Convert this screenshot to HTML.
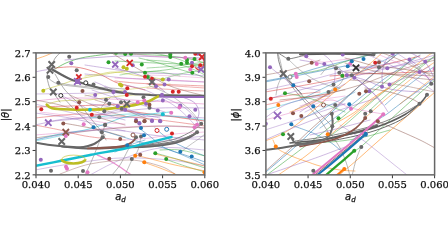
<!DOCTYPE html>
<html><head><meta charset="utf-8"><style>
html,body{margin:0;padding:0;background:#fff;width:448px;height:252px;overflow:hidden}
svg{display:block}
.t{font-family:"DejaVu Serif","Liberation Serif",serif;font-size:10.0px;fill:#111;stroke:#111;stroke-width:0.25px}
.m{font-family:"DejaVu Sans","Liberation Sans",sans-serif;font-size:10.0px;fill:#111;stroke:#111;stroke-width:0.25px}
</style></head><body>
<svg width="448" height="252" viewBox="0 0 448 252"><defs><filter id="bl" x="0" y="0" width="100%" height="100%"><feGaussianBlur stdDeviation="0.35"/></filter></defs><rect width="448" height="252" fill="#fff"/><g filter="url(#bl)"><clipPath id="c0"><rect x="36.0" y="52.9" width="168.8" height="121.94999999999999"/></clipPath>
<g clip-path="url(#c0)">
<path d="M36.00,59.00C37.50,58.50 42.33,57.00 45.00,56.00C47.67,55.00 50.83,53.50 52.00,53.00" fill="none" stroke="#ff7f0e" stroke-opacity="0.5" stroke-width="1" stroke-linecap="round" stroke-linejoin="round"/>
<path d="M61.00,52.00C60.17,52.83 57.33,55.33 56.00,57.00C54.67,58.67 54.17,59.83 53.00,62.00C51.83,64.17 50.00,67.67 49.00,70.00C48.00,72.33 47.17,74.00 47.00,76.00C46.83,78.00 47.50,80.00 48.00,82.00C48.50,84.00 48.83,85.83 50.00,88.00C51.17,90.17 53.33,92.67 55.00,95.00C56.67,97.33 59.17,100.83 60.00,102.00" fill="none" stroke="#7f7f7f" stroke-opacity="0.8" stroke-width="0.9" stroke-linecap="round" stroke-linejoin="round"/>
<path d="M55.00,69.00C56.83,68.00 61.67,64.83 66.00,63.00C70.33,61.17 75.33,59.33 81.00,58.00C86.67,56.67 94.33,55.83 100.00,55.00C105.67,54.17 108.33,53.50 115.00,53.00C121.67,52.50 135.83,52.17 140.00,52.00" fill="none" stroke="#2ca02c" stroke-opacity="0.6" stroke-width="1" stroke-linecap="round" stroke-linejoin="round"/>
<path d="M115.00,54.00C119.17,54.08 131.00,54.17 140.00,54.50C149.00,54.83 160.67,55.25 169.00,56.00C177.33,56.75 184.00,57.83 190.00,59.00C196.00,60.17 202.50,62.33 205.00,63.00" fill="none" stroke="#2ca02c" stroke-opacity="0.5" stroke-width="1" stroke-linecap="round" stroke-linejoin="round"/>
<path d="M115.00,61.00C118.33,61.17 128.33,61.67 135.00,62.00C141.67,62.33 147.50,62.67 155.00,63.00C162.50,63.33 171.67,63.67 180.00,64.00C188.33,64.33 200.83,64.83 205.00,65.00" fill="none" stroke="#2ca02c" stroke-opacity="0.45" stroke-width="1" stroke-linecap="round" stroke-linejoin="round"/>
<path d="M139.00,58.00C141.67,58.67 149.00,60.33 155.00,62.00C161.00,63.67 168.33,66.00 175.00,68.00C181.67,70.00 190.00,72.33 195.00,74.00C200.00,75.67 203.33,77.33 205.00,78.00" fill="none" stroke="#2ca02c" stroke-opacity="0.45" stroke-width="1" stroke-linecap="round" stroke-linejoin="round"/>
<path d="M145.00,72.00C148.33,71.67 158.33,70.83 165.00,70.00C171.67,69.17 178.33,68.00 185.00,67.00C191.67,66.00 201.67,64.50 205.00,64.00" fill="none" stroke="#2ca02c" stroke-opacity="0.45" stroke-width="1" stroke-linecap="round" stroke-linejoin="round"/>
<path d="M55.00,68.00C58.33,67.83 68.33,66.33 75.00,67.00C81.67,67.67 88.33,69.50 95.00,72.00C101.67,74.50 110.00,79.83 115.00,82.00C120.00,84.17 120.00,83.67 125.00,85.00C130.00,86.33 141.67,89.17 145.00,90.00" fill="none" stroke="#d62728" stroke-opacity="0.5" stroke-width="1" stroke-linecap="round" stroke-linejoin="round"/>
<path d="M35.00,72.00C36.67,71.67 41.67,70.50 45.00,70.00C48.33,69.50 53.33,69.17 55.00,69.00" fill="none" stroke="#9467bd" stroke-opacity="0.45" stroke-width="1" stroke-linecap="round" stroke-linejoin="round"/>
<path d="M65.00,60.00C69.17,59.67 80.00,58.67 90.00,58.00C100.00,57.33 112.50,56.17 125.00,56.00C137.50,55.83 151.67,56.67 165.00,57.00C178.33,57.33 198.33,57.83 205.00,58.00" fill="none" stroke="#9467bd" stroke-opacity="0.5" stroke-width="1" stroke-linecap="round" stroke-linejoin="round"/>
<path d="M85.00,65.00C88.33,65.50 98.33,67.00 105.00,68.00C111.67,69.00 117.50,70.17 125.00,71.00C132.50,71.83 140.83,72.50 150.00,73.00C159.17,73.50 170.83,73.50 180.00,74.00C189.17,74.50 200.83,75.67 205.00,76.00" fill="none" stroke="#9467bd" stroke-opacity="0.45" stroke-width="1" stroke-linecap="round" stroke-linejoin="round"/>
<path d="M85.00,74.00C88.33,74.33 98.33,75.33 105.00,76.00C111.67,76.67 115.83,77.33 125.00,78.00C134.17,78.67 146.67,79.33 160.00,80.00C173.33,80.67 197.50,81.67 205.00,82.00" fill="none" stroke="#9467bd" stroke-opacity="0.45" stroke-width="1" stroke-linecap="round" stroke-linejoin="round"/>
<path d="M115.00,68.00C117.50,68.67 125.50,70.67 130.00,72.00C134.50,73.33 138.50,74.67 142.00,76.00C145.50,77.33 148.33,78.33 151.00,80.00C153.67,81.67 155.67,84.00 158.00,86.00C160.33,88.00 163.83,91.00 165.00,92.00" fill="none" stroke="#9467bd" stroke-opacity="0.55" stroke-width="1" stroke-linecap="round" stroke-linejoin="round"/>
<path d="M95.00,82.00C96.50,82.67 101.33,84.33 104.00,86.00C106.67,87.67 108.67,89.67 111.00,92.00C113.33,94.33 116.83,98.67 118.00,100.00" fill="none" stroke="#9467bd" stroke-opacity="0.45" stroke-width="1" stroke-linecap="round" stroke-linejoin="round"/>
<path d="M105.00,86.00C106.67,86.67 111.67,88.83 115.00,90.00C118.33,91.17 123.33,92.50 125.00,93.00" fill="none" stroke="#9467bd" stroke-opacity="0.45" stroke-width="1" stroke-linecap="round" stroke-linejoin="round"/>
<path d="M35.00,94.00C40.83,93.92 57.50,93.67 70.00,93.50C82.50,93.33 96.67,92.92 110.00,93.00C123.33,93.08 143.33,93.83 150.00,94.00" fill="none" stroke="#9467bd" stroke-opacity="0.4" stroke-width="1" stroke-linecap="round" stroke-linejoin="round"/>
<path d="M35.00,125.00C38.33,124.33 48.33,122.00 55.00,121.00C61.67,120.00 67.50,120.00 75.00,119.00C82.50,118.00 91.67,116.33 100.00,115.00C108.33,113.67 115.00,112.17 125.00,111.00C135.00,109.83 146.67,108.50 160.00,108.00C173.33,107.50 197.50,108.00 205.00,108.00" fill="none" stroke="#9467bd" stroke-opacity="0.45" stroke-width="1" stroke-linecap="round" stroke-linejoin="round"/>
<path d="M35.00,113.00C40.83,113.83 59.17,116.00 70.00,118.00C80.83,120.00 90.83,122.83 100.00,125.00C109.17,127.17 115.00,129.17 125.00,131.00C135.00,132.83 146.67,134.50 160.00,136.00C173.33,137.50 197.50,139.33 205.00,140.00" fill="none" stroke="#9467bd" stroke-opacity="0.45" stroke-width="1" stroke-linecap="round" stroke-linejoin="round"/>
<path d="M47.00,122.00C50.00,121.50 58.67,119.67 65.00,119.00C71.33,118.33 77.50,118.17 85.00,118.00C92.50,117.83 100.83,118.17 110.00,118.00C119.17,117.83 130.00,117.33 140.00,117.00C150.00,116.67 159.17,115.83 170.00,116.00C180.83,116.17 199.17,117.67 205.00,118.00" fill="none" stroke="#9467bd" stroke-opacity="0.45" stroke-width="1" stroke-linecap="round" stroke-linejoin="round"/>
<path d="M90.00,175.00C95.00,172.50 108.33,164.50 120.00,160.00C131.67,155.50 145.83,149.67 160.00,148.00C174.17,146.33 197.50,149.67 205.00,150.00" fill="none" stroke="#9467bd" stroke-opacity="0.4" stroke-width="1" stroke-linecap="round" stroke-linejoin="round"/>
<path d="M35.00,170.00C40.83,169.00 55.83,166.00 70.00,164.00C84.17,162.00 103.33,158.67 120.00,158.00C136.67,157.33 155.83,158.67 170.00,160.00C184.17,161.33 199.17,165.00 205.00,166.00" fill="none" stroke="#9467bd" stroke-opacity="0.4" stroke-width="1" stroke-linecap="round" stroke-linejoin="round"/>
<path d="M182.00,97.00C183.67,97.67 189.50,99.50 192.00,101.00C194.50,102.50 195.83,104.00 197.00,106.00C198.17,108.00 199.00,110.67 199.00,113.00C199.00,115.33 197.33,118.83 197.00,120.00" fill="none" stroke="#9467bd" stroke-opacity="0.55" stroke-width="1" stroke-linecap="round" stroke-linejoin="round"/>
<path d="M160.00,96.00C161.67,96.67 165.83,98.00 170.00,100.00C174.17,102.00 180.83,105.00 185.00,108.00C189.17,111.00 192.50,114.67 195.00,118.00C197.50,121.33 199.17,126.33 200.00,128.00" fill="none" stroke="#9467bd" stroke-opacity="0.45" stroke-width="1" stroke-linecap="round" stroke-linejoin="round"/>
<path d="M115.00,150.00C119.17,149.33 130.83,147.67 140.00,146.00C149.17,144.33 159.17,141.67 170.00,140.00C180.83,138.33 199.17,136.67 205.00,136.00" fill="none" stroke="#9467bd" stroke-opacity="0.4" stroke-width="1" stroke-linecap="round" stroke-linejoin="round"/>
<path d="M35.00,101.00C40.83,100.50 57.50,98.33 70.00,98.00C82.50,97.67 96.67,98.50 110.00,99.00C123.33,99.50 134.17,100.17 150.00,101.00C165.83,101.83 195.83,103.50 205.00,104.00" fill="none" stroke="#e377c2" stroke-opacity="0.5" stroke-width="1" stroke-linecap="round" stroke-linejoin="round"/>
<path d="M35.00,135.00C39.17,134.67 50.83,133.83 60.00,133.00C69.17,132.17 79.17,131.00 90.00,130.00C100.83,129.00 113.33,127.67 125.00,127.00C136.67,126.33 146.67,125.83 160.00,126.00C173.33,126.17 197.50,127.67 205.00,128.00" fill="none" stroke="#e377c2" stroke-opacity="0.45" stroke-width="1" stroke-linecap="round" stroke-linejoin="round"/>
<path d="M115.00,78.00C119.17,78.17 130.83,78.67 140.00,79.00C149.17,79.33 159.17,79.50 170.00,80.00C180.83,80.50 199.17,81.67 205.00,82.00" fill="none" stroke="#e377c2" stroke-opacity="0.45" stroke-width="1" stroke-linecap="round" stroke-linejoin="round"/>
<path d="M120.00,52.00C125.00,52.67 139.17,55.00 150.00,56.00C160.83,57.00 175.83,57.33 185.00,58.00C194.17,58.67 201.67,59.67 205.00,60.00" fill="none" stroke="#e377c2" stroke-opacity="0.45" stroke-width="1" stroke-linecap="round" stroke-linejoin="round"/>
<path d="M97.00,154.80C99.17,155.83 106.17,158.97 110.00,161.00C113.83,163.03 116.50,164.70 120.00,167.00C123.50,169.30 129.17,173.50 131.00,174.80" fill="none" stroke="#e377c2" stroke-opacity="0.8" stroke-width="1.3" stroke-linecap="round" stroke-linejoin="round"/>
<path d="M120.00,110.00C125.00,110.67 140.83,112.83 150.00,114.00C159.17,115.17 165.83,115.83 175.00,117.00C184.17,118.17 200.00,120.33 205.00,121.00" fill="none" stroke="#d62728" stroke-opacity="0.5" stroke-width="1.1" stroke-linecap="round" stroke-linejoin="round"/>
<path d="M35.00,107.00C40.83,106.83 59.17,106.33 70.00,106.00C80.83,105.67 90.83,105.33 100.00,105.00C109.17,104.67 116.67,104.33 125.00,104.00C133.33,103.67 145.83,103.17 150.00,103.00" fill="none" stroke="#d62728" stroke-opacity="0.45" stroke-width="1" stroke-linecap="round" stroke-linejoin="round"/>
<path d="M115.00,81.00C118.33,81.33 128.33,82.50 135.00,83.00C141.67,83.50 147.50,83.67 155.00,84.00C162.50,84.33 171.67,84.67 180.00,85.00C188.33,85.33 200.83,85.83 205.00,86.00" fill="none" stroke="#d62728" stroke-opacity="0.4" stroke-width="1" stroke-linecap="round" stroke-linejoin="round"/>
<path d="M194.00,53.00C195.00,53.33 198.33,53.83 200.00,55.00C201.67,56.17 203.50,58.17 204.00,60.00C204.50,61.83 203.83,64.33 203.00,66.00C202.17,67.67 200.33,69.83 199.00,70.00C197.67,70.17 195.67,67.50 195.00,67.00" fill="none" stroke="#d62728" stroke-opacity="0.6" stroke-width="1.1" stroke-linecap="round" stroke-linejoin="round"/>
<path d="M35.00,118.00C42.50,117.33 65.83,114.33 80.00,114.00C94.17,113.67 106.67,115.00 120.00,116.00C133.33,117.00 145.83,118.33 160.00,120.00C174.17,121.67 197.50,125.00 205.00,126.00" fill="none" stroke="#d62728" stroke-opacity="0.4" stroke-width="1" stroke-linecap="round" stroke-linejoin="round"/>
<path d="M63.00,123.00C65.83,123.50 73.83,124.83 80.00,126.00C86.17,127.17 92.50,128.17 100.00,130.00C107.50,131.83 120.83,135.83 125.00,137.00" fill="none" stroke="#8c564b" stroke-opacity="0.5" stroke-width="1" stroke-linecap="round" stroke-linejoin="round"/>
<path d="M35.00,138.00C42.50,137.00 65.83,133.67 80.00,132.00C94.17,130.33 105.00,129.00 120.00,128.00C135.00,127.00 155.83,126.00 170.00,126.00C184.17,126.00 199.17,127.67 205.00,128.00" fill="none" stroke="#8c564b" stroke-opacity="0.45" stroke-width="1" stroke-linecap="round" stroke-linejoin="round"/>
<path d="M110.00,52.00C115.00,55.00 130.00,64.33 140.00,70.00C150.00,75.67 159.17,81.67 170.00,86.00C180.83,90.33 199.17,94.33 205.00,96.00" fill="none" stroke="#8c564b" stroke-opacity="0.45" stroke-width="1" stroke-linecap="round" stroke-linejoin="round"/>
<path d="M60.00,174.00C65.00,172.33 78.33,166.33 90.00,164.00C101.67,161.67 118.33,159.67 130.00,160.00C141.67,160.33 152.50,163.67 160.00,166.00C167.50,168.33 172.50,172.67 175.00,174.00" fill="none" stroke="#8c564b" stroke-opacity="0.4" stroke-width="1" stroke-linecap="round" stroke-linejoin="round"/>
<path d="M46.70,104.70C48.92,104.08 52.62,101.83 60.00,101.00C67.38,100.17 81.00,100.53 91.00,99.70C101.00,98.87 110.17,96.95 120.00,96.00C129.83,95.05 145.00,94.33 150.00,94.00" fill="none" stroke="#bcbd22" stroke-opacity="0.5" stroke-width="1" stroke-linecap="round" stroke-linejoin="round"/>
<path d="M43.00,90.00C45.83,89.17 54.67,86.67 60.00,85.00C65.33,83.33 68.33,81.67 75.00,80.00C81.67,78.33 91.67,76.50 100.00,75.00C108.33,73.50 120.83,71.67 125.00,71.00" fill="none" stroke="#bcbd22" stroke-opacity="0.5" stroke-width="1" stroke-linecap="round" stroke-linejoin="round"/>
<path d="M85.00,76.00C87.50,75.67 95.00,74.67 100.00,74.00C105.00,73.33 108.33,71.67 115.00,72.00C121.67,72.33 132.00,74.83 140.00,76.00C148.00,77.17 159.17,78.50 163.00,79.00" fill="none" stroke="#bcbd22" stroke-opacity="0.45" stroke-width="1" stroke-linecap="round" stroke-linejoin="round"/>
<path d="M85.00,96.00C89.17,95.33 100.83,93.33 110.00,92.00C119.17,90.67 130.00,89.33 140.00,88.00C150.00,86.67 165.00,84.67 170.00,84.00" fill="none" stroke="#bcbd22" stroke-opacity="0.4" stroke-width="1" stroke-linecap="round" stroke-linejoin="round"/>
<path d="M35.00,140.00C39.17,139.00 51.67,135.67 60.00,134.00C68.33,132.33 77.50,131.67 85.00,130.00C92.50,128.33 98.33,126.17 105.00,124.00C111.67,121.83 117.50,118.67 125.00,117.00C132.50,115.33 142.50,114.83 150.00,114.00C157.50,113.17 166.67,112.33 170.00,112.00" fill="none" stroke="#17becf" stroke-opacity="0.55" stroke-width="1" stroke-linecap="round" stroke-linejoin="round"/>
<path d="M35.00,141.00C37.50,140.50 44.50,139.17 50.00,138.00C55.50,136.83 65.00,134.67 68.00,134.00" fill="none" stroke="#17becf" stroke-opacity="0.45" stroke-width="1" stroke-linecap="round" stroke-linejoin="round"/>
<path d="M90.00,118.00C96.67,117.33 116.67,114.33 130.00,114.00C143.33,113.67 157.50,115.00 170.00,116.00C182.50,117.00 199.17,119.33 205.00,120.00" fill="none" stroke="#17becf" stroke-opacity="0.45" stroke-width="1" stroke-linecap="round" stroke-linejoin="round"/>
<path d="M55.00,74.00C56.67,76.67 60.83,84.83 65.00,90.00C69.17,95.17 75.50,100.00 80.00,105.00C84.50,110.00 88.50,115.67 92.00,120.00C95.50,124.33 98.67,127.67 101.00,131.00C103.33,134.33 105.17,138.50 106.00,140.00" fill="none" stroke="#7f7f7f" stroke-opacity="0.7" stroke-width="0.9" stroke-linecap="round" stroke-linejoin="round"/>
<path d="M61.00,95.00C63.33,97.50 70.50,105.50 75.00,110.00C79.50,114.50 84.00,118.50 88.00,122.00C92.00,125.50 96.17,128.83 99.00,131.00C101.83,133.17 104.00,134.33 105.00,135.00" fill="none" stroke="#7f7f7f" stroke-opacity="0.7" stroke-width="0.9" stroke-linecap="round" stroke-linejoin="round"/>
<path d="M48.00,78.00C49.67,79.00 52.67,82.50 58.00,84.00C63.33,85.50 72.17,86.00 80.00,87.00C87.83,88.00 97.50,89.17 105.00,90.00C112.50,90.83 121.67,91.67 125.00,92.00" fill="none" stroke="#7f7f7f" stroke-opacity="0.6" stroke-width="0.9" stroke-linecap="round" stroke-linejoin="round"/>
<path d="M58.00,83.00C61.67,83.50 71.33,85.17 80.00,86.00C88.67,86.83 102.50,87.50 110.00,88.00C117.50,88.50 122.50,88.83 125.00,89.00" fill="none" stroke="#7f7f7f" stroke-opacity="0.6" stroke-width="0.9" stroke-linecap="round" stroke-linejoin="round"/>
<path d="M105.00,125.00C104.17,127.50 102.17,134.17 100.00,140.00C97.83,145.83 94.50,154.17 92.00,160.00C89.50,165.83 86.17,172.50 85.00,175.00" fill="none" stroke="#7f7f7f" stroke-opacity="0.6" stroke-width="0.9" stroke-linecap="round" stroke-linejoin="round"/>
<path d="M135.00,137.00C133.83,139.17 130.50,145.33 128.00,150.00C125.50,154.67 122.67,160.83 120.00,165.00C117.33,169.17 113.33,173.33 112.00,175.00" fill="none" stroke="#7f7f7f" stroke-opacity="0.6" stroke-width="0.9" stroke-linecap="round" stroke-linejoin="round"/>
<path d="M141.00,136.00C140.50,138.33 139.50,146.00 138.00,150.00C136.50,154.00 134.17,155.83 132.00,160.00C129.83,164.17 126.17,172.50 125.00,175.00" fill="none" stroke="#7f7f7f" stroke-opacity="0.55" stroke-width="0.9" stroke-linecap="round" stroke-linejoin="round"/>
<path d="M150.00,86.00C153.33,87.50 163.33,91.00 170.00,95.00C176.67,99.00 184.83,105.17 190.00,110.00C195.17,114.83 199.17,121.67 201.00,124.00" fill="none" stroke="#7f7f7f" stroke-opacity="0.5" stroke-width="0.9" stroke-linecap="round" stroke-linejoin="round"/>
<path d="M99.00,111.00C99.83,109.83 102.17,106.17 104.00,104.00C105.83,101.83 109.00,99.00 110.00,98.00" fill="none" stroke="#7f7f7f" stroke-opacity="0.6" stroke-width="0.9" stroke-linecap="round" stroke-linejoin="round"/>
<path d="M181.00,152.00C182.50,150.83 186.83,147.33 190.00,145.00C193.17,142.67 197.50,139.83 200.00,138.00C202.50,136.17 204.17,134.67 205.00,134.00" fill="none" stroke="#7f7f7f" stroke-opacity="0.5" stroke-width="0.9" stroke-linecap="round" stroke-linejoin="round"/>
<path d="M139.00,128.00C141.17,129.67 147.67,134.67 152.00,138.00C156.33,141.33 159.50,145.17 165.00,148.00C170.50,150.83 178.33,152.67 185.00,155.00C191.67,157.33 201.67,160.83 205.00,162.00" fill="none" stroke="#1f77b4" stroke-opacity="0.5" stroke-width="1" stroke-linecap="round" stroke-linejoin="round"/>
<path d="M155.00,128.00C157.50,130.00 164.17,136.33 170.00,140.00C175.83,143.67 184.17,147.33 190.00,150.00C195.83,152.67 202.50,155.00 205.00,156.00" fill="none" stroke="#1f77b4" stroke-opacity="0.5" stroke-width="1" stroke-linecap="round" stroke-linejoin="round"/>
<path d="M100.00,130.00C106.67,132.00 128.33,138.67 140.00,142.00C151.67,145.33 159.17,146.17 170.00,150.00C180.83,153.83 199.17,162.50 205.00,165.00" fill="none" stroke="#1f77b4" stroke-opacity="0.45" stroke-width="1" stroke-linecap="round" stroke-linejoin="round"/>
<path d="M115.00,152.00C117.50,150.83 125.00,147.00 130.00,145.00C135.00,143.00 142.50,140.83 145.00,140.00" fill="none" stroke="#1f77b4" stroke-opacity="0.45" stroke-width="1" stroke-linecap="round" stroke-linejoin="round"/>
<path d="M155.00,153.00C159.17,154.17 171.67,157.50 180.00,160.00C188.33,162.50 200.83,166.67 205.00,168.00" fill="none" stroke="#2ca02c" stroke-opacity="0.45" stroke-width="1" stroke-linecap="round" stroke-linejoin="round"/>
<path d="M160.00,150.00C163.33,150.00 172.50,149.00 180.00,150.00C187.50,151.00 200.83,155.00 205.00,156.00" fill="none" stroke="#2ca02c" stroke-opacity="0.45" stroke-width="1" stroke-linecap="round" stroke-linejoin="round"/>
<path d="M165.00,159.00C168.33,160.17 178.33,163.83 185.00,166.00C191.67,168.17 201.67,171.00 205.00,172.00" fill="none" stroke="#2ca02c" stroke-opacity="0.45" stroke-width="1" stroke-linecap="round" stroke-linejoin="round"/>
<path d="M135.00,155.00C138.33,155.83 148.33,158.33 155.00,160.00C161.67,161.67 166.67,163.17 175.00,165.00C183.33,166.83 200.00,170.00 205.00,171.00" fill="none" stroke="#ff7f0e" stroke-opacity="0.5" stroke-width="1" stroke-linecap="round" stroke-linejoin="round"/>
<path d="M143.00,162.00C145.83,163.00 154.67,166.00 160.00,168.00C165.33,170.00 172.50,173.00 175.00,174.00" fill="none" stroke="#ff7f0e" stroke-opacity="0.5" stroke-width="1" stroke-linecap="round" stroke-linejoin="round"/>
<path d="M155.00,154.00C159.17,155.00 171.67,158.00 180.00,160.00C188.33,162.00 200.83,165.00 205.00,166.00" fill="none" stroke="#ff7f0e" stroke-opacity="0.45" stroke-width="1" stroke-linecap="round" stroke-linejoin="round"/>
<path d="M35.00,100.00C39.17,100.83 52.50,103.00 60.00,105.00C67.50,107.00 73.33,109.83 80.00,112.00C86.67,114.17 92.50,115.83 100.00,118.00C107.50,120.17 120.83,123.83 125.00,125.00" fill="none" stroke="#8c564b" stroke-opacity="0.45" stroke-width="1" stroke-linecap="round" stroke-linejoin="round"/>
<path d="M60.00,95.00C62.50,96.17 70.00,99.50 75.00,102.00C80.00,104.50 84.17,107.67 90.00,110.00C95.83,112.33 104.17,114.33 110.00,116.00C115.83,117.67 122.50,119.33 125.00,120.00" fill="none" stroke="#9467bd" stroke-opacity="0.45" stroke-width="1" stroke-linecap="round" stroke-linejoin="round"/>
<path d="M35.00,140.00C40.83,138.83 59.17,134.67 70.00,133.00C80.83,131.33 90.83,130.33 100.00,130.00C109.17,129.67 120.83,130.83 125.00,131.00" fill="none" stroke="#9467bd" stroke-opacity="0.4" stroke-width="1" stroke-linecap="round" stroke-linejoin="round"/>
<path d="M35.00,125.00C39.17,125.83 52.50,128.33 60.00,130.00C67.50,131.67 73.33,133.67 80.00,135.00C86.67,136.33 92.50,137.17 100.00,138.00C107.50,138.83 120.83,139.67 125.00,140.00" fill="none" stroke="#d62728" stroke-opacity="0.4" stroke-width="1" stroke-linecap="round" stroke-linejoin="round"/>
<path d="M40.00,112.00C45.00,112.67 60.00,114.33 70.00,116.00C80.00,117.67 90.83,120.67 100.00,122.00C109.17,123.33 120.83,123.67 125.00,124.00" fill="none" stroke="#e377c2" stroke-opacity="0.4" stroke-width="1" stroke-linecap="round" stroke-linejoin="round"/>
<path d="M70.00,95.00C73.33,96.50 83.33,101.17 90.00,104.00C96.67,106.83 104.17,110.00 110.00,112.00C115.83,114.00 122.50,115.33 125.00,116.00" fill="none" stroke="#8c564b" stroke-opacity="0.4" stroke-width="1" stroke-linecap="round" stroke-linejoin="round"/>
<path d="M35.00,104.00C39.17,105.00 51.67,108.00 60.00,110.00C68.33,112.00 80.83,115.00 85.00,116.00" fill="none" stroke="#9467bd" stroke-opacity="0.4" stroke-width="1" stroke-linecap="round" stroke-linejoin="round"/>
<path d="M125.00,85.00C128.33,85.83 138.33,87.50 145.00,90.00C151.67,92.50 159.17,96.67 165.00,100.00C170.83,103.33 175.00,105.83 180.00,110.00C185.00,114.17 192.50,122.50 195.00,125.00" fill="none" stroke="#9467bd" stroke-opacity="0.4" stroke-width="1" stroke-linecap="round" stroke-linejoin="round"/>
<path d="M125.00,140.00C129.17,139.67 141.67,139.00 150.00,138.00C158.33,137.00 165.83,135.00 175.00,134.00C184.17,133.00 200.00,132.33 205.00,132.00" fill="none" stroke="#e377c2" stroke-opacity="0.4" stroke-width="1" stroke-linecap="round" stroke-linejoin="round"/>
<path d="M147.00,60.00C150.83,60.33 162.83,60.67 170.00,62.00C177.17,63.33 184.17,65.83 190.00,68.00C195.83,70.17 202.50,73.83 205.00,75.00" fill="none" stroke="#2ca02c" stroke-opacity="0.4" stroke-width="1" stroke-linecap="round" stroke-linejoin="round"/>
<path d="M147.00,68.00C151.67,67.67 165.33,67.00 175.00,66.00C184.67,65.00 200.00,62.67 205.00,62.00" fill="none" stroke="#2ca02c" stroke-opacity="0.4" stroke-width="1" stroke-linecap="round" stroke-linejoin="round"/>
<path d="M150.00,52.00C154.17,53.00 167.50,55.67 175.00,58.00C182.50,60.33 190.00,63.67 195.00,66.00C200.00,68.33 203.33,71.00 205.00,72.00" fill="none" stroke="#2ca02c" stroke-opacity="0.4" stroke-width="1" stroke-linecap="round" stroke-linejoin="round"/>
<path d="M160.00,80.00C163.33,79.00 172.50,75.67 180.00,74.00C187.50,72.33 200.83,70.67 205.00,70.00" fill="none" stroke="#2ca02c" stroke-opacity="0.4" stroke-width="1" stroke-linecap="round" stroke-linejoin="round"/>
<path d="M120.00,75.00C123.33,74.50 133.33,72.50 140.00,72.00C146.67,71.50 153.33,71.33 160.00,72.00C166.67,72.67 176.67,75.33 180.00,76.00" fill="none" stroke="#2ca02c" stroke-opacity="0.35" stroke-width="1" stroke-linecap="round" stroke-linejoin="round"/>
<path d="M147.00,84.00C151.67,84.33 165.33,85.33 175.00,86.00C184.67,86.67 200.00,87.67 205.00,88.00" fill="none" stroke="#d62728" stroke-opacity="0.35" stroke-width="1" stroke-linecap="round" stroke-linejoin="round"/>
<path d="M147.00,88.00C152.50,88.33 170.33,89.50 180.00,90.00C189.67,90.50 200.83,90.83 205.00,91.00" fill="none" stroke="#d62728" stroke-opacity="0.35" stroke-width="1" stroke-linecap="round" stroke-linejoin="round"/>
<path d="M147.00,75.00C151.67,75.17 165.33,75.50 175.00,76.00C184.67,76.50 200.00,77.67 205.00,78.00" fill="none" stroke="#e377c2" stroke-opacity="0.35" stroke-width="1" stroke-linecap="round" stroke-linejoin="round"/>
<path d="M196.00,53.00C196.83,53.50 199.67,54.67 201.00,56.00C202.33,57.33 203.67,59.17 204.00,61.00C204.33,62.83 203.83,65.50 203.00,67.00C202.17,68.50 200.17,69.83 199.00,70.00C197.83,70.17 196.50,68.33 196.00,68.00" fill="none" stroke="#d62728" stroke-opacity="0.7" stroke-width="1.2" stroke-linecap="round" stroke-linejoin="round"/>
<path d="M198.00,53.00C198.83,53.83 201.83,56.17 203.00,58.00C204.17,59.83 204.67,63.00 205.00,64.00" fill="none" stroke="#9467bd" stroke-opacity="0.6" stroke-width="1.1" stroke-linecap="round" stroke-linejoin="round"/>
<path d="M85.00,95.00C87.50,95.67 95.00,97.50 100.00,99.00C105.00,100.50 110.00,102.17 115.00,104.00C120.00,105.83 125.00,108.00 130.00,110.00C135.00,112.00 142.50,115.00 145.00,116.00" fill="none" stroke="#9467bd" stroke-opacity="0.45" stroke-width="1" stroke-linecap="round" stroke-linejoin="round"/>
<path d="M90.00,104.00C92.50,104.33 100.00,105.00 105.00,106.00C110.00,107.00 114.17,108.67 120.00,110.00C125.83,111.33 133.33,112.67 140.00,114.00C146.67,115.33 156.67,117.33 160.00,118.00" fill="none" stroke="#9467bd" stroke-opacity="0.45" stroke-width="1" stroke-linecap="round" stroke-linejoin="round"/>
<path d="M92.00,90.00C95.00,91.00 104.50,94.33 110.00,96.00C115.50,97.67 119.17,98.33 125.00,100.00C130.83,101.67 138.33,104.00 145.00,106.00C151.67,108.00 161.67,111.00 165.00,112.00" fill="none" stroke="#9467bd" stroke-opacity="0.4" stroke-width="1" stroke-linecap="round" stroke-linejoin="round"/>
<path d="M95.00,115.00C97.50,114.50 105.00,113.17 110.00,112.00C115.00,110.83 120.00,109.33 125.00,108.00C130.00,106.67 134.17,105.33 140.00,104.00C145.83,102.67 156.67,100.67 160.00,100.00" fill="none" stroke="#9467bd" stroke-opacity="0.4" stroke-width="1" stroke-linecap="round" stroke-linejoin="round"/>
<path d="M95.00,100.00C98.33,101.00 108.33,103.67 115.00,106.00C121.67,108.33 129.17,111.67 135.00,114.00C140.83,116.33 147.50,119.00 150.00,120.00" fill="none" stroke="#8c564b" stroke-opacity="0.4" stroke-width="1" stroke-linecap="round" stroke-linejoin="round"/>
<path d="M53.00,70.00C54.50,70.83 59.00,73.42 62.00,75.00C65.00,76.58 66.50,77.83 71.00,79.50C75.50,81.17 83.17,83.33 89.00,85.00C94.83,86.67 100.17,88.17 106.00,89.50C111.83,90.83 116.67,92.08 124.00,93.00C131.33,93.92 140.67,94.58 150.00,95.00C159.33,95.42 170.83,95.37 180.00,95.50C189.17,95.63 200.83,95.75 205.00,95.80" fill="none" stroke="#636363" stroke-opacity="1" stroke-width="2.2" stroke-linecap="round" stroke-linejoin="round"/>
<path d="M158.00,96.50C161.67,96.58 172.17,96.92 180.00,97.00C187.83,97.08 200.83,97.00 205.00,97.00" fill="none" stroke="#9467bd" stroke-opacity="1" stroke-width="1.8" stroke-linecap="round" stroke-linejoin="round"/>
<path d="M46.70,104.70C47.58,105.28 48.12,107.40 52.00,108.20C55.88,109.00 63.50,109.27 70.00,109.50C76.50,109.73 84.33,109.75 91.00,109.60C97.67,109.45 103.83,109.15 110.00,108.60C116.17,108.05 121.83,107.40 128.00,106.30C134.17,105.20 142.00,103.67 147.00,102.00C152.00,100.33 156.17,97.25 158.00,96.30" fill="none" stroke="#bcbd22" stroke-opacity="1" stroke-width="2.6" stroke-linecap="round" stroke-linejoin="round"/>
<path d="M35.00,142.50C37.50,142.92 45.00,144.33 50.00,145.00C55.00,145.67 60.00,146.13 65.00,146.50C70.00,146.87 76.17,147.28 80.00,147.20C83.83,147.12 85.67,146.53 88.00,146.00C90.33,145.47 92.33,144.75 94.00,144.00C95.67,143.25 96.75,142.33 98.00,141.50C99.25,140.67 100.67,139.75 101.50,139.00C102.33,138.25 102.75,137.33 103.00,137.00" fill="none" stroke="#666666" stroke-opacity="1" stroke-width="2.0" stroke-linecap="round" stroke-linejoin="round"/>
<path d="M62.00,146.50C66.83,146.85 81.33,148.43 91.00,148.60C100.67,148.77 110.17,147.85 120.00,147.50C129.83,147.15 140.83,147.25 150.00,146.50C159.17,145.75 168.67,144.42 175.00,143.00C181.33,141.58 184.33,139.75 188.00,138.00C191.67,136.25 195.50,133.42 197.00,132.50" fill="none" stroke="#666666" stroke-opacity="1" stroke-width="2.0" stroke-linecap="round" stroke-linejoin="round"/>
<path d="M91.00,148.20C95.83,148.00 110.17,147.45 120.00,147.00C129.83,146.55 140.83,146.33 150.00,145.50C159.17,144.67 168.33,143.58 175.00,142.00C181.67,140.42 186.17,137.83 190.00,136.00C193.83,134.17 196.67,131.83 198.00,131.00" fill="none" stroke="#777777" stroke-opacity="1" stroke-width="1.1" stroke-linecap="round" stroke-linejoin="round"/>
<path d="M91.00,147.80C95.83,147.58 110.17,147.00 120.00,146.50C129.83,146.00 140.67,145.72 150.00,144.80C159.33,143.88 169.00,142.63 176.00,141.00C183.00,139.37 188.50,136.33 192.00,135.00C195.50,133.67 196.17,133.33 197.00,133.00" fill="none" stroke="#777777" stroke-opacity="1" stroke-width="1.1" stroke-linecap="round" stroke-linejoin="round"/>
<path d="M150.00,144.00C154.17,143.17 168.00,141.17 175.00,139.00C182.00,136.83 187.67,133.50 192.00,131.00C196.33,128.50 199.50,125.17 201.00,124.00" fill="none" stroke="#808080" stroke-opacity="1" stroke-width="0.9" stroke-linecap="round" stroke-linejoin="round"/>
<path d="M88.00,148.40C90.00,148.33 96.17,148.17 100.00,148.00C103.83,147.83 107.67,147.65 111.00,147.40C114.33,147.15 117.43,146.88 120.00,146.50C122.57,146.12 124.57,145.72 126.40,145.10C128.23,144.48 129.73,143.60 131.00,142.80C132.27,142.00 133.17,141.18 134.00,140.30C134.83,139.42 135.67,137.97 136.00,137.50" fill="none" stroke="#8c564b" stroke-opacity="1" stroke-width="1.8" stroke-linecap="round" stroke-linejoin="round"/>
<path d="M35.00,166.00C39.17,165.17 50.67,162.87 60.00,161.00C69.33,159.13 80.17,156.88 91.00,154.80C101.83,152.72 115.67,150.47 125.00,148.50C134.33,146.53 139.25,144.92 147.00,143.00C154.75,141.08 167.42,138.00 171.50,137.00" fill="none" stroke="#17becf" stroke-opacity="1" stroke-width="2.4" stroke-linecap="round" stroke-linejoin="round"/>
<path d="M61.7,159.3 A11.8,4.2 0 0 1 85.3,159.3" fill="none" stroke="#bcbd22" stroke-width="1" stroke-opacity="0.6"/>
<path d="M61.7,159.3 A11.8,4.2 0 0 0 85.3,159.3" fill="none" stroke="#bcbd22" stroke-width="2.6"/>
<circle cx="69.20" cy="56.70" r="2.0" fill="#6a6a6a"/>
<circle cx="48.30" cy="77.00" r="2.0" fill="#6a6a6a"/>
<circle cx="58.30" cy="82.80" r="2.0" fill="#6a6a6a"/>
<circle cx="76.70" cy="70.30" r="2.0" fill="#6a6a6a"/>
<circle cx="93.50" cy="84.50" r="2.0" fill="#6a6a6a"/>
<circle cx="106.00" cy="99.70" r="2.0" fill="#6a6a6a"/>
<circle cx="109.30" cy="103.80" r="2.0" fill="#6a6a6a"/>
<circle cx="121.00" cy="102.20" r="2.0" fill="#6a6a6a"/>
<circle cx="121.80" cy="108.80" r="2.0" fill="#6a6a6a"/>
<circle cx="104.30" cy="111.30" r="2.0" fill="#6a6a6a"/>
<circle cx="99.30" cy="117.20" r="2.0" fill="#6a6a6a"/>
<circle cx="105.20" cy="124.70" r="2.0" fill="#6a6a6a"/>
<circle cx="101.80" cy="132.20" r="2.0" fill="#6a6a6a"/>
<circle cx="143.50" cy="97.20" r="2.0" fill="#6a6a6a"/>
<circle cx="149.50" cy="107.70" r="2.0" fill="#6a6a6a"/>
<circle cx="201.20" cy="123.80" r="2.0" fill="#6a6a6a"/>
<circle cx="197.00" cy="132.20" r="2.0" fill="#6a6a6a"/>
<circle cx="102.70" cy="137.30" r="2.0" fill="#6a6a6a"/>
<circle cx="136.00" cy="137.30" r="2.0" fill="#6a6a6a"/>
<circle cx="141.00" cy="136.50" r="2.0" fill="#6a6a6a"/>
<circle cx="131.80" cy="159.00" r="2.0" fill="#6a6a6a"/>
<circle cx="51.00" cy="170.80" r="2.0" fill="#6a6a6a"/>
<circle cx="83.00" cy="171.00" r="2.0" fill="#6a6a6a"/>
<circle cx="105.00" cy="125.00" r="2.0" fill="#6a6a6a"/>
<circle cx="71.30" cy="63.30" r="2.0" fill="#9467bd"/>
<circle cx="132.70" cy="65.30" r="2.0" fill="#9467bd"/>
<circle cx="113.50" cy="92.00" r="2.0" fill="#9467bd"/>
<circle cx="125.00" cy="92.00" r="2.0" fill="#9467bd"/>
<circle cx="192.00" cy="62.80" r="2.0" fill="#9467bd"/>
<circle cx="197.80" cy="53.70" r="2.0" fill="#9467bd"/>
<circle cx="168.70" cy="79.50" r="2.0" fill="#9467bd"/>
<circle cx="164.50" cy="84.50" r="2.0" fill="#9467bd"/>
<circle cx="156.00" cy="86.20" r="2.0" fill="#9467bd"/>
<circle cx="95.20" cy="95.00" r="2.0" fill="#9467bd"/>
<circle cx="117.70" cy="106.30" r="2.0" fill="#9467bd"/>
<circle cx="125.20" cy="109.70" r="2.0" fill="#9467bd"/>
<circle cx="139.30" cy="123.00" r="2.0" fill="#9467bd"/>
<circle cx="146.00" cy="103.80" r="2.0" fill="#9467bd"/>
<circle cx="162.00" cy="94.70" r="2.0" fill="#9467bd"/>
<circle cx="162.80" cy="100.50" r="2.0" fill="#9467bd"/>
<circle cx="157.80" cy="110.50" r="2.0" fill="#9467bd"/>
<circle cx="180.30" cy="105.50" r="2.0" fill="#9467bd"/>
<circle cx="195.30" cy="109.70" r="2.0" fill="#9467bd"/>
<circle cx="189.50" cy="116.30" r="2.0" fill="#9467bd"/>
<circle cx="152.00" cy="120.50" r="2.0" fill="#9467bd"/>
<circle cx="160.30" cy="121.30" r="2.0" fill="#9467bd"/>
<circle cx="40.80" cy="159.80" r="2.0" fill="#9467bd"/>
<circle cx="136.00" cy="120.00" r="2.0" fill="#9467bd"/>
<circle cx="139.50" cy="123.40" r="2.0" fill="#9467bd"/>
<circle cx="152.00" cy="121.00" r="2.0" fill="#9467bd"/>
<circle cx="160.00" cy="121.00" r="2.0" fill="#9467bd"/>
<circle cx="116.00" cy="52.80" r="2.0" fill="#2ca02c"/>
<circle cx="125.20" cy="54.00" r="2.0" fill="#2ca02c"/>
<circle cx="131.00" cy="53.70" r="2.0" fill="#2ca02c"/>
<circle cx="108.50" cy="62.30" r="2.0" fill="#2ca02c"/>
<circle cx="141.80" cy="64.50" r="2.0" fill="#2ca02c"/>
<circle cx="145.00" cy="72.80" r="2.0" fill="#2ca02c"/>
<circle cx="170.30" cy="54.50" r="2.0" fill="#2ca02c"/>
<circle cx="170.30" cy="57.00" r="2.0" fill="#2ca02c"/>
<circle cx="181.20" cy="63.70" r="2.0" fill="#2ca02c"/>
<circle cx="187.00" cy="60.00" r="2.0" fill="#2ca02c"/>
<circle cx="187.00" cy="62.80" r="2.0" fill="#2ca02c"/>
<circle cx="194.50" cy="59.00" r="2.0" fill="#2ca02c"/>
<circle cx="192.30" cy="72.80" r="2.0" fill="#2ca02c"/>
<circle cx="147.80" cy="77.00" r="2.0" fill="#2ca02c"/>
<circle cx="155.30" cy="153.20" r="2.0" fill="#2ca02c"/>
<circle cx="166.20" cy="159.00" r="2.0" fill="#2ca02c"/>
<circle cx="127.30" cy="88.30" r="2.0" fill="#d62728"/>
<circle cx="145.00" cy="76.70" r="2.0" fill="#d62728"/>
<circle cx="195.30" cy="53.70" r="2.0" fill="#d62728"/>
<circle cx="192.00" cy="66.20" r="2.0" fill="#d62728"/>
<circle cx="200.30" cy="65.30" r="2.0" fill="#d62728"/>
<circle cx="152.00" cy="78.70" r="2.0" fill="#d62728"/>
<circle cx="172.80" cy="91.70" r="2.0" fill="#d62728"/>
<circle cx="178.70" cy="91.70" r="2.0" fill="#d62728"/>
<circle cx="41.30" cy="109.20" r="2.0" fill="#d62728"/>
<circle cx="76.70" cy="107.70" r="2.0" fill="#d62728"/>
<circle cx="126.80" cy="95.00" r="2.0" fill="#d62728"/>
<circle cx="91.80" cy="114.70" r="2.0" fill="#d62728"/>
<circle cx="172.00" cy="133.60" r="2.0" fill="#d62728"/>
<circle cx="185.30" cy="57.80" r="2.0" fill="#e377c2"/>
<circle cx="190.30" cy="69.50" r="2.0" fill="#e377c2"/>
<circle cx="83.70" cy="124.30" r="2.0" fill="#e377c2"/>
<circle cx="137.70" cy="102.20" r="2.0" fill="#e377c2"/>
<circle cx="144.30" cy="100.50" r="2.0" fill="#e377c2"/>
<circle cx="171.20" cy="112.70" r="2.0" fill="#e377c2"/>
<circle cx="179.50" cy="107.20" r="2.0" fill="#e377c2"/>
<circle cx="197.00" cy="124.70" r="2.0" fill="#e377c2"/>
<circle cx="194.50" cy="127.20" r="2.0" fill="#e377c2"/>
<circle cx="65.80" cy="136.00" r="2.0" fill="#e377c2"/>
<circle cx="66.00" cy="166.80" r="2.0" fill="#e377c2"/>
<circle cx="67.00" cy="168.80" r="2.0" fill="#e377c2"/>
<circle cx="87.50" cy="172.30" r="2.0" fill="#e377c2"/>
<circle cx="82.50" cy="91.00" r="2.0" fill="#8c564b"/>
<circle cx="79.20" cy="102.20" r="2.0" fill="#8c564b"/>
<circle cx="63.30" cy="123.50" r="2.0" fill="#8c564b"/>
<circle cx="136.00" cy="121.30" r="2.0" fill="#8c564b"/>
<circle cx="144.30" cy="121.30" r="2.0" fill="#8c564b"/>
<circle cx="149.50" cy="104.70" r="2.0" fill="#8c564b"/>
<circle cx="120.20" cy="139.00" r="2.0" fill="#8c564b"/>
<circle cx="140.20" cy="154.80" r="2.0" fill="#8c564b"/>
<circle cx="109.30" cy="158.70" r="2.0" fill="#8c564b"/>
<circle cx="144.70" cy="121.00" r="2.0" fill="#8c564b"/>
<circle cx="43.30" cy="90.70" r="2.0" fill="#bcbd22"/>
<circle cx="123.50" cy="67.30" r="2.0" fill="#bcbd22"/>
<circle cx="126.80" cy="68.70" r="2.0" fill="#bcbd22"/>
<circle cx="120.00" cy="84.50" r="2.0" fill="#bcbd22"/>
<circle cx="121.50" cy="85.50" r="2.0" fill="#bcbd22"/>
<circle cx="162.80" cy="79.50" r="2.0" fill="#bcbd22"/>
<circle cx="90.00" cy="109.70" r="2.0" fill="#17becf"/>
<circle cx="162.80" cy="114.30" r="2.0" fill="#17becf"/>
<circle cx="93.50" cy="127.20" r="2.0" fill="#1f77b4"/>
<circle cx="141.00" cy="128.00" r="2.0" fill="#1f77b4"/>
<circle cx="127.30" cy="145.30" r="2.0" fill="#1f77b4"/>
<circle cx="144.00" cy="135.30" r="2.0" fill="#1f77b4"/>
<circle cx="180.30" cy="151.70" r="2.0" fill="#1f77b4"/>
<circle cx="191.70" cy="156.50" r="2.0" fill="#1f77b4"/>
<circle cx="135.20" cy="155.70" r="2.0" fill="#ff7f0e"/>
<circle cx="144.30" cy="162.30" r="2.0" fill="#ff7f0e"/>
<circle cx="204.50" cy="172.30" r="2.0" fill="#ff7f0e"/>
<path d="M48.50,61.30L54.90,67.70M48.50,67.70L54.90,61.30" stroke="#666666" stroke-width="2.0" fill="none"/>
<path d="M46.80,67.10L53.20,73.50M46.80,73.50L53.20,67.10" stroke="#666666" stroke-width="2.0" fill="none"/>
<path d="M50.10,88.80L56.50,95.20M50.10,95.20L56.50,88.80" stroke="#666666" stroke-width="2.0" fill="none"/>
<path d="M123.60,100.60L130.00,107.00M123.60,107.00L130.00,100.60" stroke="#666666" stroke-width="2.0" fill="none"/>
<path d="M149.00,79.00L155.00,85.00M149.00,85.00L155.00,79.00" stroke="#666666" stroke-width="2.0" fill="none"/>
<path d="M58.50,138.30L64.90,144.70M58.50,144.70L64.90,138.30" stroke="#666666" stroke-width="2.0" fill="none"/>
<path d="M112.20,61.50L118.20,67.50M112.20,67.50L118.20,61.50" stroke="#9467bd" stroke-width="1.8" fill="none"/>
<path d="M198.00,66.50L204.00,72.50M198.00,72.50L204.00,66.50" stroke="#9467bd" stroke-width="1.8" fill="none"/>
<path d="M45.10,119.50L51.50,125.90M45.10,125.90L51.50,119.50" stroke="#9467bd" stroke-width="1.8" fill="none"/>
<path d="M126.70,59.80L132.70,65.80M126.70,65.80L132.70,59.80" stroke="#d62728" stroke-width="1.8" fill="none"/>
<path d="M199.00,54.00L205.00,60.00M199.00,60.00L205.00,54.00" stroke="#d62728" stroke-width="1.8" fill="none"/>
<path d="M76.20,74.40L81.40,79.60M76.20,79.60L81.40,74.40" stroke="#d62728" stroke-width="1.8" fill="none"/>
<path d="M62.60,129.00L69.00,135.40M62.60,135.40L69.00,129.00" stroke="#8c564b" stroke-width="1.8" fill="none"/>
<path d="M74.10,78.10L80.90,84.90M74.10,84.90L80.90,78.10" stroke="#9467bd" stroke-width="1.8" fill="none"/>
<circle cx="77.50" cy="81.50" r="2.6" fill="#9467bd"/>
<circle cx="85.80" cy="82.80" r="2.0" fill="#fff" stroke="#333333" stroke-width="1"/>
<circle cx="60.80" cy="95.50" r="2.0" fill="#fff" stroke="#333333" stroke-width="1"/>
<circle cx="157.00" cy="130.50" r="2.0" fill="#fff" stroke="#d62728" stroke-width="1"/>
<circle cx="166.70" cy="129.30" r="2.0" fill="#fff" stroke="#1f77b4" stroke-width="1"/>
<circle cx="133.00" cy="135.00" r="2.0" fill="#fff" stroke="#8c564b" stroke-width="1"/>
</g>
<clipPath id="c1"><rect x="265.9" y="52.9" width="168.70000000000005" height="121.94999999999999"/></clipPath>
<g clip-path="url(#c1)">
<path d="M265.00,172.80C269.80,168.67 286.30,154.63 293.80,148.00C301.30,141.37 303.97,138.67 310.00,133.00C316.03,127.33 322.50,121.17 330.00,114.00C337.50,106.83 346.67,97.67 355.00,90.00C363.33,82.33 372.50,74.33 380.00,68.00C387.50,61.67 396.67,54.67 400.00,52.00" fill="none" stroke="#1f77b4" stroke-opacity="0.55" stroke-width="1" stroke-linecap="round" stroke-linejoin="round"/>
<path d="M266.00,175.60C272.12,171.00 292.87,155.43 302.70,148.00C312.53,140.57 317.95,136.50 325.00,131.00C332.05,125.50 338.33,120.50 345.00,115.00C351.67,109.50 357.50,104.17 365.00,98.00C372.50,91.83 381.67,84.83 390.00,78.00C398.33,71.17 410.83,60.50 415.00,57.00" fill="none" stroke="#2ca02c" stroke-opacity="0.5" stroke-width="1" stroke-linecap="round" stroke-linejoin="round"/>
<path d="M265.00,171.50C269.23,167.68 282.90,155.52 290.40,148.60C297.90,141.68 303.40,136.10 310.00,130.00C316.60,123.90 323.33,118.00 330.00,112.00C336.67,106.00 343.33,99.83 350.00,94.00C356.67,88.17 362.50,83.33 370.00,77.00C377.50,70.67 390.83,59.50 395.00,56.00" fill="none" stroke="#8c564b" stroke-opacity="0.5" stroke-width="1" stroke-linecap="round" stroke-linejoin="round"/>
<path d="M276.00,176.50C281.00,173.05 297.50,162.22 306.00,155.80C314.50,149.38 319.67,144.30 327.00,138.00C334.33,131.70 342.00,124.67 350.00,118.00C358.00,111.33 366.67,104.67 375.00,98.00C383.33,91.33 391.67,84.67 400.00,78.00C408.33,71.33 419.67,62.17 425.00,58.00C430.33,53.83 430.83,53.83 432.00,53.00" fill="none" stroke="#ff7f0e" stroke-opacity="0.5" stroke-width="1" stroke-linecap="round" stroke-linejoin="round"/>
<path d="M268.00,174.30C274.33,172.13 297.17,164.35 306.00,161.30C314.83,158.25 314.50,158.38 321.00,156.00C327.50,153.62 341.00,148.50 345.00,147.00" fill="none" stroke="#9467bd" stroke-opacity="0.45" stroke-width="1" stroke-linecap="round" stroke-linejoin="round"/>
<path d="M265.00,141.00C267.83,139.83 276.17,137.17 282.00,134.00C287.83,130.83 292.83,127.67 300.00,122.00C307.17,116.33 317.50,106.33 325.00,100.00C332.50,93.67 338.33,89.33 345.00,84.00C351.67,78.67 358.83,73.17 365.00,68.00C371.17,62.83 379.17,55.50 382.00,53.00" fill="none" stroke="#ff7f0e" stroke-opacity="0.5" stroke-width="1" stroke-linecap="round" stroke-linejoin="round"/>
<path d="M273.00,140.00C273.67,141.33 275.00,145.83 277.00,148.00C279.00,150.17 282.00,151.42 285.00,153.00C288.00,154.58 291.50,156.12 295.00,157.50C298.50,158.88 301.83,159.88 306.00,161.30C310.17,162.72 314.33,164.55 320.00,166.00C325.67,167.45 334.17,169.17 340.00,170.00C345.83,170.83 352.50,170.83 355.00,171.00" fill="none" stroke="#ff7f0e" stroke-opacity="0.5" stroke-width="1" stroke-linecap="round" stroke-linejoin="round"/>
<path d="M338.00,176.00C341.17,173.33 350.67,165.50 357.00,160.00C363.33,154.50 370.33,148.00 376.00,143.00C381.67,138.00 386.00,134.33 391.00,130.00C396.00,125.67 401.17,121.17 406.00,117.00C410.83,112.83 415.17,109.17 420.00,105.00C424.83,100.83 432.50,94.17 435.00,92.00" fill="none" stroke="#ff7f0e" stroke-opacity="0.55" stroke-width="1" stroke-linecap="round" stroke-linejoin="round"/>
<path d="M350.00,142.00C351.67,140.67 355.67,137.50 360.00,134.00C364.33,130.50 371.50,124.33 376.00,121.00C380.50,117.67 383.00,116.83 387.00,114.00C391.00,111.17 395.33,107.50 400.00,104.00C404.67,100.50 409.17,97.33 415.00,93.00C420.83,88.67 431.67,80.50 435.00,78.00" fill="none" stroke="#1f77b4" stroke-opacity="0.5" stroke-width="1" stroke-linecap="round" stroke-linejoin="round"/>
<path d="M356.00,150.00C356.83,149.45 357.67,149.53 361.00,146.70C364.33,143.87 371.17,137.45 376.00,133.00C380.83,128.55 385.83,123.83 390.00,120.00C394.17,116.17 396.00,114.50 401.00,110.00C406.00,105.50 414.33,98.00 420.00,93.00C425.67,88.00 432.50,82.17 435.00,80.00" fill="none" stroke="#2ca02c" stroke-opacity="0.5" stroke-width="1" stroke-linecap="round" stroke-linejoin="round"/>
<path d="M330.00,136.00C332.50,134.17 340.00,129.00 345.00,125.00C350.00,121.00 354.17,117.00 360.00,112.00C365.83,107.00 373.33,100.33 380.00,95.00C386.67,89.67 393.33,84.83 400.00,80.00C406.67,75.17 414.17,70.00 420.00,66.00C425.83,62.00 432.50,57.67 435.00,56.00" fill="none" stroke="#2ca02c" stroke-opacity="0.45" stroke-width="1" stroke-linecap="round" stroke-linejoin="round"/>
<path d="M320.00,128.00C323.33,125.67 333.33,119.00 340.00,114.00C346.67,109.00 353.33,103.33 360.00,98.00C366.67,92.67 373.33,87.00 380.00,82.00C386.67,77.00 393.33,72.50 400.00,68.00C406.67,63.50 416.67,57.17 420.00,55.00" fill="none" stroke="#1f77b4" stroke-opacity="0.45" stroke-width="1" stroke-linecap="round" stroke-linejoin="round"/>
<path d="M365.00,118.00C368.33,115.00 379.17,105.00 385.00,100.00C390.83,95.00 394.17,92.67 400.00,88.00C405.83,83.33 414.17,76.33 420.00,72.00C425.83,67.67 432.50,63.67 435.00,62.00" fill="none" stroke="#ff7f0e" stroke-opacity="0.45" stroke-width="1" stroke-linecap="round" stroke-linejoin="round"/>
<path d="M370.00,110.00C373.33,107.00 383.33,97.67 390.00,92.00C396.67,86.33 403.33,81.33 410.00,76.00C416.67,70.67 425.83,63.33 430.00,60.00C434.17,56.67 434.17,56.67 435.00,56.00" fill="none" stroke="#2ca02c" stroke-opacity="0.45" stroke-width="1" stroke-linecap="round" stroke-linejoin="round"/>
<path d="M385.00,105.00C387.50,102.83 394.50,96.50 400.00,92.00C405.50,87.50 412.17,82.33 418.00,78.00C423.83,73.67 432.17,68.00 435.00,66.00" fill="none" stroke="#1f77b4" stroke-opacity="0.45" stroke-width="1" stroke-linecap="round" stroke-linejoin="round"/>
<path d="M400.00,104.00C402.50,102.00 409.17,96.67 415.00,92.00C420.83,87.33 431.67,78.67 435.00,76.00" fill="none" stroke="#ff7f0e" stroke-opacity="0.45" stroke-width="1" stroke-linecap="round" stroke-linejoin="round"/>
<path d="M340.00,125.00C343.33,127.17 353.83,133.67 360.00,138.00C366.17,142.33 371.67,146.83 377.00,151.00C382.33,155.17 387.00,159.00 392.00,163.00C397.00,167.00 404.50,173.00 407.00,175.00" fill="none" stroke="#9467bd" stroke-opacity="0.4" stroke-width="1" stroke-linecap="round" stroke-linejoin="round"/>
<path d="M377.00,121.00C380.83,122.67 392.83,127.83 400.00,131.00C407.17,134.17 414.17,137.17 420.00,140.00C425.83,142.83 432.50,146.67 435.00,148.00" fill="none" stroke="#8c564b" stroke-opacity="0.5" stroke-width="1" stroke-linecap="round" stroke-linejoin="round"/>
<path d="M365.00,88.00C368.33,88.50 379.17,89.83 385.00,91.00C390.83,92.17 395.50,93.67 400.00,95.00C404.50,96.33 408.83,97.67 412.00,99.00C415.17,100.33 417.83,102.33 419.00,103.00" fill="none" stroke="#8c564b" stroke-opacity="0.5" stroke-width="1" stroke-linecap="round" stroke-linejoin="round"/>
<path d="M331.00,134.00C332.50,136.33 337.50,143.33 340.00,148.00C342.50,152.67 344.33,157.33 346.00,162.00C347.67,166.67 349.33,173.67 350.00,176.00" fill="none" stroke="#7f7f7f" stroke-opacity="0.6" stroke-width="0.9" stroke-linecap="round" stroke-linejoin="round"/>
<path d="M361.00,147.00C360.17,149.17 357.50,155.17 356.00,160.00C354.50,164.83 352.67,173.33 352.00,176.00" fill="none" stroke="#7f7f7f" stroke-opacity="0.6" stroke-width="0.9" stroke-linecap="round" stroke-linejoin="round"/>
<path d="M283.00,74.00C284.17,75.67 287.50,80.67 290.00,84.00C292.50,87.33 294.67,90.00 298.00,94.00C301.33,98.00 306.33,103.67 310.00,108.00C313.67,112.33 317.00,116.00 320.00,120.00C323.00,124.00 326.33,129.00 328.00,132.00C329.67,135.00 329.67,137.00 330.00,138.00" fill="none" stroke="#7f7f7f" stroke-opacity="0.7" stroke-width="0.9" stroke-linecap="round" stroke-linejoin="round"/>
<path d="M286.00,76.00C287.67,78.00 292.67,84.00 296.00,88.00C299.33,92.00 302.33,96.00 306.00,100.00C309.67,104.00 314.33,108.33 318.00,112.00C321.67,115.67 325.50,119.33 328.00,122.00C330.50,124.67 332.17,127.00 333.00,128.00" fill="none" stroke="#7f7f7f" stroke-opacity="0.7" stroke-width="0.9" stroke-linecap="round" stroke-linejoin="round"/>
<path d="M283.00,74.00C282.17,75.83 279.17,81.50 278.00,85.00C276.83,88.50 276.33,93.33 276.00,95.00" fill="none" stroke="#7f7f7f" stroke-opacity="0.55" stroke-width="0.9" stroke-linecap="round" stroke-linejoin="round"/>
<path d="M291.00,125.00C293.33,125.83 301.00,128.50 305.00,130.00C309.00,131.50 310.83,132.00 315.00,134.00C319.17,136.00 325.83,139.33 330.00,142.00C334.17,144.67 338.33,148.67 340.00,150.00" fill="none" stroke="#1f77b4" stroke-opacity="0.5" stroke-width="1" stroke-linecap="round" stroke-linejoin="round"/>
<path d="M265.00,81.00C269.17,80.17 280.67,78.33 290.00,76.00C299.33,73.67 311.00,69.67 321.00,67.00C331.00,64.33 340.17,62.50 350.00,60.00C359.83,57.50 375.00,53.33 380.00,52.00" fill="none" stroke="#1f77b4" stroke-opacity="0.5" stroke-width="1" stroke-linecap="round" stroke-linejoin="round"/>
<path d="M330.00,76.00C335.00,75.67 349.17,74.50 360.00,74.00C370.83,73.50 382.50,73.50 395.00,73.00C407.50,72.50 428.33,71.33 435.00,71.00" fill="none" stroke="#d62728" stroke-opacity="0.5" stroke-width="1" stroke-linecap="round" stroke-linejoin="round"/>
<path d="M345.00,72.00C350.83,72.33 369.17,73.50 380.00,74.00C390.83,74.50 400.83,74.67 410.00,75.00C419.17,75.33 430.83,75.83 435.00,76.00" fill="none" stroke="#8c564b" stroke-opacity="0.5" stroke-width="1" stroke-linecap="round" stroke-linejoin="round"/>
<path d="M265.00,100.00C270.83,98.33 287.50,93.33 300.00,90.00C312.50,86.67 326.67,83.33 340.00,80.00C353.33,76.67 364.17,73.67 380.00,70.00C395.83,66.33 425.83,60.00 435.00,58.00" fill="none" stroke="#9467bd" stroke-opacity="0.45" stroke-width="1" stroke-linecap="round" stroke-linejoin="round"/>
<path d="M265.00,120.00C270.83,118.33 289.17,113.33 300.00,110.00C310.83,106.67 321.50,100.33 330.00,100.00C338.50,99.67 342.17,105.67 351.00,108.00C359.83,110.33 377.67,113.00 383.00,114.00" fill="none" stroke="#e377c2" stroke-opacity="0.45" stroke-width="1" stroke-linecap="round" stroke-linejoin="round"/>
<path d="M265.00,140.00C270.83,137.50 287.50,130.00 300.00,125.00C312.50,120.00 327.17,114.50 340.00,110.00C352.83,105.50 370.83,100.00 377.00,98.00" fill="none" stroke="#9467bd" stroke-opacity="0.45" stroke-width="1" stroke-linecap="round" stroke-linejoin="round"/>
<path d="M265.00,92.00C270.83,91.00 287.50,88.33 300.00,86.00C312.50,83.67 326.67,81.33 340.00,78.00C353.33,74.67 366.67,69.67 380.00,66.00C393.33,62.33 413.33,57.67 420.00,56.00" fill="none" stroke="#d62728" stroke-opacity="0.45" stroke-width="1" stroke-linecap="round" stroke-linejoin="round"/>
<path d="M280.00,100.00C286.67,99.17 306.67,97.50 320.00,95.00C333.33,92.50 346.67,89.17 360.00,85.00C373.33,80.83 387.50,74.17 400.00,70.00C412.50,65.83 429.17,61.67 435.00,60.00" fill="none" stroke="#8c564b" stroke-opacity="0.45" stroke-width="1" stroke-linecap="round" stroke-linejoin="round"/>
<path d="M300.00,60.00C305.00,61.00 320.83,63.00 330.00,66.00C339.17,69.00 348.00,73.67 355.00,78.00C362.00,82.33 367.50,87.67 372.00,92.00C376.50,96.33 380.33,102.00 382.00,104.00" fill="none" stroke="#9467bd" stroke-opacity="0.5" stroke-width="1" stroke-linecap="round" stroke-linejoin="round"/>
<path d="M392.00,53.00C390.83,54.50 386.67,58.33 385.00,62.00C383.33,65.67 382.33,71.00 382.00,75.00C381.67,79.00 382.83,84.17 383.00,86.00" fill="none" stroke="#9467bd" stroke-opacity="0.5" stroke-width="1" stroke-linecap="round" stroke-linejoin="round"/>
<path d="M409.00,59.00C410.83,60.50 416.83,64.83 420.00,68.00C423.17,71.17 426.00,75.33 428.00,78.00C430.00,80.67 431.33,83.00 432.00,84.00" fill="none" stroke="#9467bd" stroke-opacity="0.5" stroke-width="1" stroke-linecap="round" stroke-linejoin="round"/>
<path d="M347.00,75.00C350.00,75.83 359.50,78.17 365.00,80.00C370.50,81.83 375.00,84.33 380.00,86.00C385.00,87.67 388.33,89.00 395.00,90.00C401.67,91.00 415.83,91.67 420.00,92.00" fill="none" stroke="#9467bd" stroke-opacity="0.5" stroke-width="1" stroke-linecap="round" stroke-linejoin="round"/>
<path d="M354.00,77.00C356.67,79.17 365.67,86.17 370.00,90.00C374.33,93.83 377.00,96.33 380.00,100.00C383.00,103.67 386.67,110.00 388.00,112.00" fill="none" stroke="#9467bd" stroke-opacity="0.45" stroke-width="1" stroke-linecap="round" stroke-linejoin="round"/>
<path d="M389.00,84.00C391.67,83.00 400.00,80.00 405.00,78.00C410.00,76.00 414.83,74.00 419.00,72.00C423.17,70.00 428.17,67.00 430.00,66.00" fill="none" stroke="#9467bd" stroke-opacity="0.45" stroke-width="1" stroke-linecap="round" stroke-linejoin="round"/>
<path d="M338.00,122.00C340.83,120.33 349.67,115.67 355.00,112.00C360.33,108.33 365.50,103.33 370.00,100.00C374.50,96.67 378.67,94.00 382.00,92.00C385.33,90.00 388.67,88.67 390.00,88.00" fill="none" stroke="#ff7f0e" stroke-opacity="0.5" stroke-width="1" stroke-linecap="round" stroke-linejoin="round"/>
<path d="M290.00,75.00C295.00,74.17 310.00,72.50 320.00,70.00C330.00,67.50 340.00,63.00 350.00,60.00C360.00,57.00 375.00,53.33 380.00,52.00" fill="none" stroke="#2ca02c" stroke-opacity="0.45" stroke-width="1" stroke-linecap="round" stroke-linejoin="round"/>
<path d="M300.00,100.00C305.00,97.50 320.00,89.67 330.00,85.00C340.00,80.33 349.17,77.00 360.00,72.00C370.83,67.00 389.17,57.83 395.00,55.00" fill="none" stroke="#1f77b4" stroke-opacity="0.45" stroke-width="1" stroke-linecap="round" stroke-linejoin="round"/>
<path d="M380.00,52.00C383.33,53.33 391.67,56.17 400.00,60.00C408.33,63.83 425.00,72.50 430.00,75.00" fill="none" stroke="#8c564b" stroke-opacity="0.45" stroke-width="1" stroke-linecap="round" stroke-linejoin="round"/>
<path d="M265.00,110.00C270.83,108.33 287.50,103.67 300.00,100.00C312.50,96.33 333.33,90.00 340.00,88.00" fill="none" stroke="#17becf" stroke-opacity="0.4" stroke-width="1" stroke-linecap="round" stroke-linejoin="round"/>
<path d="M265.00,90.00C272.50,88.33 295.83,83.33 310.00,80.00C324.17,76.67 335.00,73.00 350.00,70.00C365.00,67.00 391.67,63.33 400.00,62.00" fill="none" stroke="#9467bd" stroke-opacity="0.4" stroke-width="1" stroke-linecap="round" stroke-linejoin="round"/>
<path d="M265.00,118.00C268.33,115.83 277.50,108.33 285.00,105.00C292.50,101.67 302.50,99.50 310.00,98.00C317.50,96.50 326.67,96.33 330.00,96.00" fill="none" stroke="#9467bd" stroke-opacity="0.45" stroke-width="1" stroke-linecap="round" stroke-linejoin="round"/>
<path d="M265.00,75.00C269.17,74.17 280.83,72.50 290.00,70.00C299.17,67.50 315.00,61.67 320.00,60.00" fill="none" stroke="#8c564b" stroke-opacity="0.45" stroke-width="1" stroke-linecap="round" stroke-linejoin="round"/>
<path d="M288.00,59.00C290.00,60.83 295.50,66.50 300.00,70.00C304.50,73.50 310.00,77.33 315.00,80.00C320.00,82.67 325.83,84.67 330.00,86.00C334.17,87.33 338.33,87.67 340.00,88.00" fill="none" stroke="#7f7f7f" stroke-opacity="0.5" stroke-width="0.9" stroke-linecap="round" stroke-linejoin="round"/>
<path d="M310.00,135.00C315.00,133.83 330.00,130.50 340.00,128.00C350.00,125.50 365.00,121.33 370.00,120.00" fill="none" stroke="#9467bd" stroke-opacity="0.45" stroke-width="1" stroke-linecap="round" stroke-linejoin="round"/>
<path d="M265.00,105.00C270.83,103.83 289.17,99.83 300.00,98.00C310.83,96.17 325.00,94.67 330.00,94.00" fill="none" stroke="#d62728" stroke-opacity="0.4" stroke-width="1" stroke-linecap="round" stroke-linejoin="round"/>
<path d="M300.00,142.00C305.00,142.00 320.00,142.67 330.00,142.00C340.00,141.33 350.00,140.00 360.00,138.00C370.00,136.00 385.00,131.33 390.00,130.00" fill="none" stroke="#2ca02c" stroke-opacity="0.45" stroke-width="1" stroke-linecap="round" stroke-linejoin="round"/>
<path d="M300.00,55.00C303.33,56.17 313.33,61.17 320.00,62.00C326.67,62.83 333.33,60.67 340.00,60.00C346.67,59.33 356.67,58.33 360.00,58.00" fill="none" stroke="#e377c2" stroke-opacity="0.4" stroke-width="1" stroke-linecap="round" stroke-linejoin="round"/>
<path d="M320.00,52.00C321.67,53.33 327.50,57.00 330.00,60.00C332.50,63.00 334.33,66.00 335.00,70.00C335.67,74.00 334.17,81.67 334.00,84.00" fill="none" stroke="#9467bd" stroke-opacity="0.45" stroke-width="1" stroke-linecap="round" stroke-linejoin="round"/>
<path d="M265.00,130.00C269.17,128.67 280.83,125.00 290.00,122.00C299.17,119.00 310.83,115.00 320.00,112.00C329.17,109.00 340.83,105.33 345.00,104.00" fill="none" stroke="#9467bd" stroke-opacity="0.4" stroke-width="1" stroke-linecap="round" stroke-linejoin="round"/>
<path d="M265.00,82.00C269.17,81.17 280.83,78.83 290.00,77.00C299.17,75.17 310.83,72.83 320.00,71.00C329.17,69.17 340.83,66.83 345.00,66.00" fill="none" stroke="#1f77b4" stroke-opacity="0.5" stroke-width="1.1" stroke-linecap="round" stroke-linejoin="round"/>
<path d="M321.00,74.60C322.17,73.33 325.33,68.43 328.00,67.00C330.67,65.57 334.40,64.53 337.00,66.00C339.60,67.47 343.10,72.80 343.60,75.80C344.10,78.80 341.60,81.97 340.00,84.00C338.40,86.03 335.87,86.67 334.00,88.00C332.13,89.33 329.67,91.33 328.80,92.00" fill="none" stroke="#7f7f7f" stroke-opacity="0.55" stroke-width="0.9" stroke-linecap="round" stroke-linejoin="round"/>
<path d="M300.00,112.00C302.50,110.33 310.00,105.33 315.00,102.00C320.00,98.67 325.00,95.00 330.00,92.00C335.00,89.00 342.50,85.33 345.00,84.00" fill="none" stroke="#9467bd" stroke-opacity="0.45" stroke-width="1" stroke-linecap="round" stroke-linejoin="round"/>
<path d="M295.00,110.00C298.33,108.33 308.33,103.00 315.00,100.00C321.67,97.00 330.00,93.67 335.00,92.00C340.00,90.33 343.33,90.33 345.00,90.00" fill="none" stroke="#8c564b" stroke-opacity="0.45" stroke-width="1" stroke-linecap="round" stroke-linejoin="round"/>
<path d="M300.00,106.00C303.33,105.00 312.50,101.67 320.00,100.00C327.50,98.33 340.83,96.67 345.00,96.00" fill="none" stroke="#e377c2" stroke-opacity="0.4" stroke-width="1" stroke-linecap="round" stroke-linejoin="round"/>
<path d="M285.00,93.00C287.50,93.50 295.00,94.83 300.00,96.00C305.00,97.17 309.17,98.00 315.00,100.00C320.83,102.00 330.00,106.00 335.00,108.00C340.00,110.00 343.33,111.33 345.00,112.00" fill="none" stroke="#2ca02c" stroke-opacity="0.45" stroke-width="1" stroke-linecap="round" stroke-linejoin="round"/>
<path d="M305.00,112.00C307.50,111.00 313.33,107.33 320.00,106.00C326.67,104.67 340.83,104.33 345.00,104.00" fill="none" stroke="#9467bd" stroke-opacity="0.4" stroke-width="1" stroke-linecap="round" stroke-linejoin="round"/>
<path d="M290.00,112.00C293.33,110.67 304.17,106.67 310.00,104.00C315.83,101.33 320.83,98.33 325.00,96.00C329.17,93.67 333.33,91.00 335.00,90.00" fill="none" stroke="#ff7f0e" stroke-opacity="0.45" stroke-width="1" stroke-linecap="round" stroke-linejoin="round"/>
<path d="M300.00,120.00C303.33,118.33 313.33,113.33 320.00,110.00C326.67,106.67 334.17,103.00 340.00,100.00C345.83,97.00 352.50,93.33 355.00,92.00" fill="none" stroke="#1f77b4" stroke-opacity="0.4" stroke-width="1" stroke-linecap="round" stroke-linejoin="round"/>
<path d="M270.00,67.00C271.67,68.33 276.33,72.17 280.00,75.00C283.67,77.83 287.83,81.83 292.00,84.00C296.17,86.17 300.33,87.00 305.00,88.00C309.67,89.00 317.50,89.67 320.00,90.00" fill="none" stroke="#9467bd" stroke-opacity="0.45" stroke-width="1" stroke-linecap="round" stroke-linejoin="round"/>
<path d="M271.00,98.00C273.33,97.67 280.17,96.67 285.00,96.00C289.83,95.33 294.17,94.67 300.00,94.00C305.83,93.33 316.67,92.33 320.00,92.00" fill="none" stroke="#d62728" stroke-opacity="0.4" stroke-width="1" stroke-linecap="round" stroke-linejoin="round"/>
<path d="M277.50,52.50C277.92,53.75 279.08,56.42 280.00,60.00C280.92,63.58 282.50,71.67 283.00,74.00" fill="none" stroke="#7f7f7f" stroke-opacity="0.6" stroke-width="0.9" stroke-linecap="round" stroke-linejoin="round"/>
<path d="M345.00,58.00C347.50,58.67 355.00,60.67 360.00,62.00C365.00,63.33 369.17,65.00 375.00,66.00C380.83,67.00 388.33,67.17 395.00,68.00C401.67,68.83 408.33,70.00 415.00,71.00C421.67,72.00 431.67,73.50 435.00,74.00" fill="none" stroke="#8c564b" stroke-opacity="0.5" stroke-width="1" stroke-linecap="round" stroke-linejoin="round"/>
<path d="M345.00,63.00C349.17,64.17 361.67,68.00 370.00,70.00C378.33,72.00 387.50,73.67 395.00,75.00C402.50,76.33 408.33,77.17 415.00,78.00C421.67,78.83 431.67,79.67 435.00,80.00" fill="none" stroke="#8c564b" stroke-opacity="0.45" stroke-width="1" stroke-linecap="round" stroke-linejoin="round"/>
<path d="M345.00,66.00C348.33,66.17 358.33,66.67 365.00,67.00C371.67,67.33 377.50,68.83 385.00,68.00C392.50,67.17 401.67,64.17 410.00,62.00C418.33,59.83 430.83,56.17 435.00,55.00" fill="none" stroke="#9467bd" stroke-opacity="0.45" stroke-width="1" stroke-linecap="round" stroke-linejoin="round"/>
<path d="M409.00,52.00C410.83,53.00 416.83,55.67 420.00,58.00C423.17,60.33 425.83,63.00 428.00,66.00C430.17,69.00 432.17,74.33 433.00,76.00" fill="none" stroke="#9467bd" stroke-opacity="0.5" stroke-width="1" stroke-linecap="round" stroke-linejoin="round"/>
<path d="M395.00,52.00C397.50,53.67 405.00,58.17 410.00,62.00C415.00,65.83 420.83,71.00 425.00,75.00C429.17,79.00 433.33,84.17 435.00,86.00" fill="none" stroke="#9467bd" stroke-opacity="0.4" stroke-width="1" stroke-linecap="round" stroke-linejoin="round"/>
<path d="M360.00,52.00C363.33,53.33 373.33,57.00 380.00,60.00C386.67,63.00 393.33,66.33 400.00,70.00C406.67,73.67 414.17,78.33 420.00,82.00C425.83,85.67 432.50,90.33 435.00,92.00" fill="none" stroke="#9467bd" stroke-opacity="0.4" stroke-width="1" stroke-linecap="round" stroke-linejoin="round"/>
<path d="M380.00,55.00C383.33,56.50 393.33,60.83 400.00,64.00C406.67,67.17 414.17,71.33 420.00,74.00C425.83,76.67 432.50,79.00 435.00,80.00" fill="none" stroke="#e377c2" stroke-opacity="0.4" stroke-width="1" stroke-linecap="round" stroke-linejoin="round"/>
<path d="M350.00,80.00C354.17,80.33 366.67,81.17 375.00,82.00C383.33,82.83 391.67,83.67 400.00,85.00C408.33,86.33 419.17,88.83 425.00,90.00C430.83,91.17 433.33,91.67 435.00,92.00" fill="none" stroke="#8c564b" stroke-opacity="0.4" stroke-width="1" stroke-linecap="round" stroke-linejoin="round"/>
<path d="M300.00,54.20C305.00,54.13 320.83,53.83 330.00,53.80C339.17,53.77 347.67,53.80 355.00,54.00C362.33,54.20 370.83,54.83 374.00,55.00" fill="none" stroke="#5a5a5a" stroke-opacity="1" stroke-width="2.0" stroke-linecap="round" stroke-linejoin="round"/>
<path d="M277.50,52.50C278.42,53.08 281.20,54.97 283.00,56.00C284.80,57.03 286.13,58.45 288.30,58.70C290.47,58.95 293.22,58.12 296.00,57.50C298.78,56.88 303.50,55.42 305.00,55.00" fill="none" stroke="#777777" stroke-opacity="0.9" stroke-width="1.0" stroke-linecap="round" stroke-linejoin="round"/>
<path d="M277.50,53.00C277.75,54.50 278.03,58.55 279.00,62.00C279.97,65.45 281.47,70.37 283.30,73.70C285.13,77.03 287.88,79.62 290.00,82.00C292.12,84.38 294.05,86.00 296.00,88.00C297.95,90.00 300.75,93.00 301.70,94.00" fill="none" stroke="#777777" stroke-opacity="0.9" stroke-width="1.0" stroke-linecap="round" stroke-linejoin="round"/>
<path d="M265.00,150.00C268.33,149.55 279.17,148.22 285.00,147.30C290.83,146.38 294.00,145.63 300.00,144.50C306.00,143.37 314.00,142.00 321.00,140.50C328.00,139.00 335.33,137.08 342.00,135.50C348.67,133.92 355.17,132.67 361.00,131.00C366.83,129.33 374.33,126.42 377.00,125.50" fill="none" stroke="#666666" stroke-opacity="1" stroke-width="2.1" stroke-linecap="round" stroke-linejoin="round"/>
<path d="M290.00,143.00C295.17,142.47 311.83,141.10 321.00,139.80C330.17,138.50 337.67,136.73 345.00,135.20C352.33,133.67 358.33,132.47 365.00,130.60C371.67,128.73 378.33,126.68 385.00,124.00C391.67,121.32 399.25,117.87 405.00,114.50C410.75,111.13 416.33,106.38 419.50,103.80C422.67,101.22 422.75,100.52 424.00,99.00C425.25,97.48 426.50,95.42 427.00,94.70" fill="none" stroke="#5c5c5c" stroke-opacity="1" stroke-width="1.5" stroke-linecap="round" stroke-linejoin="round"/>
<path d="M295.00,145.80C299.33,145.27 312.67,143.87 321.00,142.60C329.33,141.33 337.67,139.70 345.00,138.20C352.33,136.70 358.33,135.47 365.00,133.60C371.67,131.73 378.33,129.72 385.00,127.00C391.67,124.28 399.25,121.17 405.00,117.30C410.75,113.43 417.08,106.05 419.50,103.80" fill="none" stroke="#6a6a6a" stroke-opacity="1" stroke-width="1.0" stroke-linecap="round" stroke-linejoin="round"/>
<path d="M295.00,141.00C299.33,140.40 312.67,138.80 321.00,137.40C329.33,136.00 337.67,134.17 345.00,132.60C352.33,131.03 358.33,129.87 365.00,128.00C371.67,126.13 378.33,124.07 385.00,121.40C391.67,118.73 399.25,114.93 405.00,112.00C410.75,109.07 417.08,105.17 419.50,103.80" fill="none" stroke="#777777" stroke-opacity="1" stroke-width="0.9" stroke-linecap="round" stroke-linejoin="round"/>
<path d="M300.00,146.50C303.50,145.83 315.17,143.75 321.00,142.50C326.83,141.25 330.83,140.37 335.00,139.00C339.17,137.63 342.50,136.13 346.00,134.30C349.50,132.47 353.33,130.05 356.00,128.00C358.67,125.95 360.47,123.67 362.00,122.00C363.53,120.33 364.67,118.67 365.20,118.00" fill="none" stroke="#8c564b" stroke-opacity="1" stroke-width="1.6" stroke-linecap="round" stroke-linejoin="round"/>
<path d="M291.50,137.80C291.92,138.50 292.58,140.97 294.00,142.00C295.42,143.03 296.72,144.00 300.00,144.00C303.28,144.00 309.70,142.75 313.70,142.00C317.70,141.25 321.28,140.83 324.00,139.50C326.72,138.17 328.58,136.25 330.00,134.00C331.42,131.75 332.17,129.33 332.50,126.00C332.83,122.67 332.08,116.00 332.00,114.00" fill="none" stroke="#6a6a6a" stroke-opacity="1" stroke-width="1.8" stroke-linecap="round" stroke-linejoin="round"/>
<path d="M292.00,138.50C292.67,139.33 293.83,142.50 296.00,143.50C298.17,144.50 301.33,144.75 305.00,144.50C308.67,144.25 314.33,143.08 318.00,142.00C321.67,140.92 324.75,140.00 327.00,138.00C329.25,136.00 330.50,133.00 331.50,130.00C332.50,127.00 332.75,121.67 333.00,120.00" fill="none" stroke="#707070" stroke-opacity="1" stroke-width="1.1" stroke-linecap="round" stroke-linejoin="round"/>
<path d="M311.00,176.00C315.83,172.00 331.20,159.35 340.00,152.00C348.80,144.65 356.58,138.18 363.80,131.90C371.02,125.62 380.05,117.23 383.30,114.30" fill="none" stroke="#e377c2" stroke-opacity="1" stroke-width="2.0" stroke-linecap="round" stroke-linejoin="round"/>
<path d="M313.80,176.00C318.17,172.38 331.13,161.63 340.00,154.30C348.87,146.97 362.50,135.72 367.00,132.00" fill="none" stroke="#8c564b" stroke-opacity="1" stroke-width="0.9" stroke-linecap="round" stroke-linejoin="round"/>
<path d="M316.30,176.00C320.25,172.72 331.77,163.27 340.00,156.30C348.23,149.33 361.42,137.88 365.70,134.20" fill="none" stroke="#1f77b4" stroke-opacity="1" stroke-width="2.2" stroke-linecap="round" stroke-linejoin="round"/>
<path d="M324.80,176.00C327.33,173.87 335.08,167.43 340.00,163.20C344.92,158.97 351.92,152.70 354.30,150.60" fill="none" stroke="#2ca02c" stroke-opacity="1" stroke-width="2.2" stroke-linecap="round" stroke-linejoin="round"/>
<path d="M336.00,176.00L344.20,169.00" fill="none" stroke="#ff7f0e" stroke-opacity="1" stroke-width="2.2" stroke-linecap="round" stroke-linejoin="round"/>
<circle cx="288.30" cy="58.70" r="2.0" fill="#6a6a6a"/>
<circle cx="336.00" cy="68.30" r="2.0" fill="#6a6a6a"/>
<circle cx="339.30" cy="72.80" r="2.0" fill="#6a6a6a"/>
<circle cx="351.80" cy="75.30" r="2.0" fill="#6a6a6a"/>
<circle cx="333.50" cy="84.50" r="2.0" fill="#6a6a6a"/>
<circle cx="328.50" cy="92.00" r="2.0" fill="#6a6a6a"/>
<circle cx="373.50" cy="54.50" r="2.0" fill="#6a6a6a"/>
<circle cx="379.00" cy="67.30" r="2.0" fill="#6a6a6a"/>
<circle cx="431.20" cy="83.70" r="2.0" fill="#6a6a6a"/>
<circle cx="335.20" cy="105.00" r="2.0" fill="#6a6a6a"/>
<circle cx="331.80" cy="113.80" r="2.0" fill="#6a6a6a"/>
<circle cx="365.20" cy="113.80" r="2.0" fill="#6a6a6a"/>
<circle cx="370.70" cy="111.30" r="2.0" fill="#6a6a6a"/>
<circle cx="332.30" cy="126.30" r="2.0" fill="#6a6a6a"/>
<circle cx="427.00" cy="94.70" r="2.0" fill="#6a6a6a"/>
<circle cx="419.50" cy="103.80" r="2.0" fill="#6a6a6a"/>
<circle cx="313.30" cy="170.70" r="2.0" fill="#6a6a6a"/>
<circle cx="361.30" cy="147.00" r="2.0" fill="#6a6a6a"/>
<circle cx="270.00" cy="67.30" r="2.0" fill="#9467bd"/>
<circle cx="306.30" cy="56.20" r="2.0" fill="#9467bd"/>
<circle cx="324.30" cy="64.00" r="2.0" fill="#9467bd"/>
<circle cx="342.70" cy="54.50" r="2.0" fill="#9467bd"/>
<circle cx="346.80" cy="75.30" r="2.0" fill="#9467bd"/>
<circle cx="354.30" cy="77.80" r="2.0" fill="#9467bd"/>
<circle cx="369.30" cy="91.20" r="2.0" fill="#9467bd"/>
<circle cx="392.80" cy="53.70" r="2.0" fill="#9467bd"/>
<circle cx="409.50" cy="59.50" r="2.0" fill="#9467bd"/>
<circle cx="425.30" cy="61.70" r="2.0" fill="#9467bd"/>
<circle cx="387.30" cy="68.30" r="2.0" fill="#9467bd"/>
<circle cx="419.50" cy="72.00" r="2.0" fill="#9467bd"/>
<circle cx="389.50" cy="84.50" r="2.0" fill="#9467bd"/>
<circle cx="382.00" cy="86.70" r="2.0" fill="#9467bd"/>
<circle cx="265.80" cy="123.80" r="2.0" fill="#9467bd"/>
<circle cx="311.70" cy="62.80" r="2.0" fill="#8c564b"/>
<circle cx="309.20" cy="81.20" r="2.0" fill="#8c564b"/>
<circle cx="366.00" cy="91.20" r="2.0" fill="#8c564b"/>
<circle cx="379.00" cy="62.30" r="2.0" fill="#8c564b"/>
<circle cx="293.00" cy="113.30" r="2.0" fill="#8c564b"/>
<circle cx="301.30" cy="116.00" r="2.0" fill="#8c564b"/>
<circle cx="359.30" cy="93.80" r="2.0" fill="#8c564b"/>
<circle cx="365.20" cy="118.00" r="2.0" fill="#8c564b"/>
<circle cx="377.80" cy="121.30" r="2.0" fill="#8c564b"/>
<circle cx="316.70" cy="64.00" r="2.0" fill="#e377c2"/>
<circle cx="295.80" cy="73.70" r="2.0" fill="#e377c2"/>
<circle cx="296.70" cy="77.00" r="2.0" fill="#e377c2"/>
<circle cx="350.20" cy="63.70" r="2.0" fill="#e377c2"/>
<circle cx="351.00" cy="108.80" r="2.0" fill="#e377c2"/>
<circle cx="434.50" cy="68.70" r="2.0" fill="#e377c2"/>
<circle cx="383.30" cy="114.30" r="2.0" fill="#e377c2"/>
<circle cx="293.30" cy="85.30" r="2.0" fill="#1f77b4"/>
<circle cx="351.80" cy="61.20" r="2.0" fill="#1f77b4"/>
<circle cx="347.70" cy="66.20" r="2.0" fill="#1f77b4"/>
<circle cx="363.50" cy="59.00" r="2.0" fill="#1f77b4"/>
<circle cx="313.30" cy="106.30" r="2.0" fill="#1f77b4"/>
<circle cx="291.30" cy="124.30" r="2.0" fill="#1f77b4"/>
<circle cx="349.30" cy="104.30" r="2.0" fill="#1f77b4"/>
<circle cx="365.70" cy="133.80" r="2.0" fill="#1f77b4"/>
<circle cx="365.70" cy="134.80" r="2.0" fill="#1f77b4"/>
<circle cx="285.00" cy="93.30" r="2.0" fill="#2ca02c"/>
<circle cx="342.30" cy="75.80" r="2.0" fill="#2ca02c"/>
<circle cx="283.00" cy="134.30" r="2.0" fill="#2ca02c"/>
<circle cx="338.50" cy="118.30" r="2.0" fill="#2ca02c"/>
<circle cx="354.30" cy="150.70" r="2.0" fill="#2ca02c"/>
<circle cx="375.20" cy="62.80" r="2.0" fill="#d62728"/>
<circle cx="270.80" cy="98.80" r="2.0" fill="#d62728"/>
<circle cx="335.20" cy="89.50" r="2.0" fill="#ff7f0e"/>
<circle cx="278.30" cy="105.00" r="2.0" fill="#ff7f0e"/>
<circle cx="327.70" cy="134.30" r="2.0" fill="#ff7f0e"/>
<circle cx="275.80" cy="146.50" r="2.0" fill="#ff7f0e"/>
<circle cx="344.30" cy="169.00" r="2.0" fill="#ff7f0e"/>
<path d="M280.00,70.40L286.60,77.00M280.00,77.00L286.60,70.40" stroke="#666666" stroke-width="2.0" fill="none"/>
<path d="M352.80,64.60L359.20,71.00M352.80,71.00L359.20,64.60" stroke="#333333" stroke-width="1.8" fill="none"/>
<path d="M287.60,133.30L294.00,139.70M287.60,139.70L294.00,133.30" stroke="#666666" stroke-width="2.0" fill="none"/>
<path d="M273.90,111.90L281.10,119.10M273.90,119.10L281.10,111.90" stroke="#9467bd" stroke-width="1.8" fill="none"/>
<circle cx="290.00" cy="77.00" r="2.0" fill="#fff" stroke="#7f7f7f" stroke-width="1"/>
<circle cx="323.50" cy="105.00" r="2.0" fill="#fff" stroke="#8c564b" stroke-width="1"/>
</g>
<line x1="36.00" y1="174.85" x2="36.00" y2="178.25" stroke="#000" stroke-width="0.8"/>
<text x="36.00" y="188.05" text-anchor="middle" class="t">0.040</text>
<line x1="78.20" y1="174.85" x2="78.20" y2="178.25" stroke="#000" stroke-width="0.8"/>
<text x="78.20" y="188.05" text-anchor="middle" class="t">0.045</text>
<line x1="120.40" y1="174.85" x2="120.40" y2="178.25" stroke="#000" stroke-width="0.8"/>
<text x="120.40" y="188.05" text-anchor="middle" class="t">0.050</text>
<line x1="162.60" y1="174.85" x2="162.60" y2="178.25" stroke="#000" stroke-width="0.8"/>
<text x="162.60" y="188.05" text-anchor="middle" class="t">0.055</text>
<line x1="204.80" y1="174.85" x2="204.80" y2="178.25" stroke="#000" stroke-width="0.8"/>
<text x="204.80" y="188.05" text-anchor="middle" class="t">0.060</text>
<line x1="32.60" y1="174.85" x2="36.00" y2="174.85" stroke="#000" stroke-width="0.8"/>
<text x="30.70" y="178.55" text-anchor="end" class="t">2.2</text>
<line x1="32.60" y1="150.46" x2="36.00" y2="150.46" stroke="#000" stroke-width="0.8"/>
<text x="30.70" y="154.16" text-anchor="end" class="t">2.3</text>
<line x1="32.60" y1="126.07" x2="36.00" y2="126.07" stroke="#000" stroke-width="0.8"/>
<text x="30.70" y="129.77" text-anchor="end" class="t">2.4</text>
<line x1="32.60" y1="101.68" x2="36.00" y2="101.68" stroke="#000" stroke-width="0.8"/>
<text x="30.70" y="105.38" text-anchor="end" class="t">2.5</text>
<line x1="32.60" y1="77.29" x2="36.00" y2="77.29" stroke="#000" stroke-width="0.8"/>
<text x="30.70" y="80.99" text-anchor="end" class="t">2.6</text>
<line x1="32.60" y1="52.90" x2="36.00" y2="52.90" stroke="#000" stroke-width="0.8"/>
<text x="30.70" y="56.60" text-anchor="end" class="t">2.7</text>
<rect x="36.00" y="52.90" width="168.80" height="121.95" fill="none" stroke="#666" stroke-width="1.5"/>
<text x="115.20" y="199.90" class="m"><tspan font-style="italic">a</tspan><tspan font-style="italic" font-size="7.0" dy="2.0">d</tspan></text>
<text transform="translate(8.80,114.88) rotate(-90)" text-anchor="middle" class="m">|<tspan font-style="italic">θ</tspan>|</text>
<line x1="265.90" y1="174.85" x2="265.90" y2="178.25" stroke="#000" stroke-width="0.8"/>
<text x="265.90" y="188.05" text-anchor="middle" class="t">0.040</text>
<line x1="308.07" y1="174.85" x2="308.07" y2="178.25" stroke="#000" stroke-width="0.8"/>
<text x="308.07" y="188.05" text-anchor="middle" class="t">0.045</text>
<line x1="350.25" y1="174.85" x2="350.25" y2="178.25" stroke="#000" stroke-width="0.8"/>
<text x="350.25" y="188.05" text-anchor="middle" class="t">0.050</text>
<line x1="392.43" y1="174.85" x2="392.43" y2="178.25" stroke="#000" stroke-width="0.8"/>
<text x="392.43" y="188.05" text-anchor="middle" class="t">0.055</text>
<line x1="434.60" y1="174.85" x2="434.60" y2="178.25" stroke="#000" stroke-width="0.8"/>
<text x="434.60" y="188.05" text-anchor="middle" class="t">0.060</text>
<line x1="262.50" y1="174.85" x2="265.90" y2="174.85" stroke="#000" stroke-width="0.8"/>
<text x="260.60" y="178.55" text-anchor="end" class="t">3.5</text>
<line x1="262.50" y1="150.46" x2="265.90" y2="150.46" stroke="#000" stroke-width="0.8"/>
<text x="260.60" y="154.16" text-anchor="end" class="t">3.6</text>
<line x1="262.50" y1="126.07" x2="265.90" y2="126.07" stroke="#000" stroke-width="0.8"/>
<text x="260.60" y="129.77" text-anchor="end" class="t">3.7</text>
<line x1="262.50" y1="101.68" x2="265.90" y2="101.68" stroke="#000" stroke-width="0.8"/>
<text x="260.60" y="105.38" text-anchor="end" class="t">3.8</text>
<line x1="262.50" y1="77.29" x2="265.90" y2="77.29" stroke="#000" stroke-width="0.8"/>
<text x="260.60" y="80.99" text-anchor="end" class="t">3.9</text>
<line x1="262.50" y1="52.90" x2="265.90" y2="52.90" stroke="#000" stroke-width="0.8"/>
<text x="260.60" y="56.60" text-anchor="end" class="t">4.0</text>
<rect x="265.90" y="52.90" width="168.70" height="121.95" fill="none" stroke="#666" stroke-width="1.5"/>
<text x="345.05" y="199.90" class="m"><tspan font-style="italic">a</tspan><tspan font-style="italic" font-size="7.0" dy="2.0">d</tspan></text>
<text transform="translate(238.70,114.88) rotate(-90)" text-anchor="middle" class="m">|<tspan font-style="italic">ϕ</tspan>|</text></g></svg>
</body></html>
